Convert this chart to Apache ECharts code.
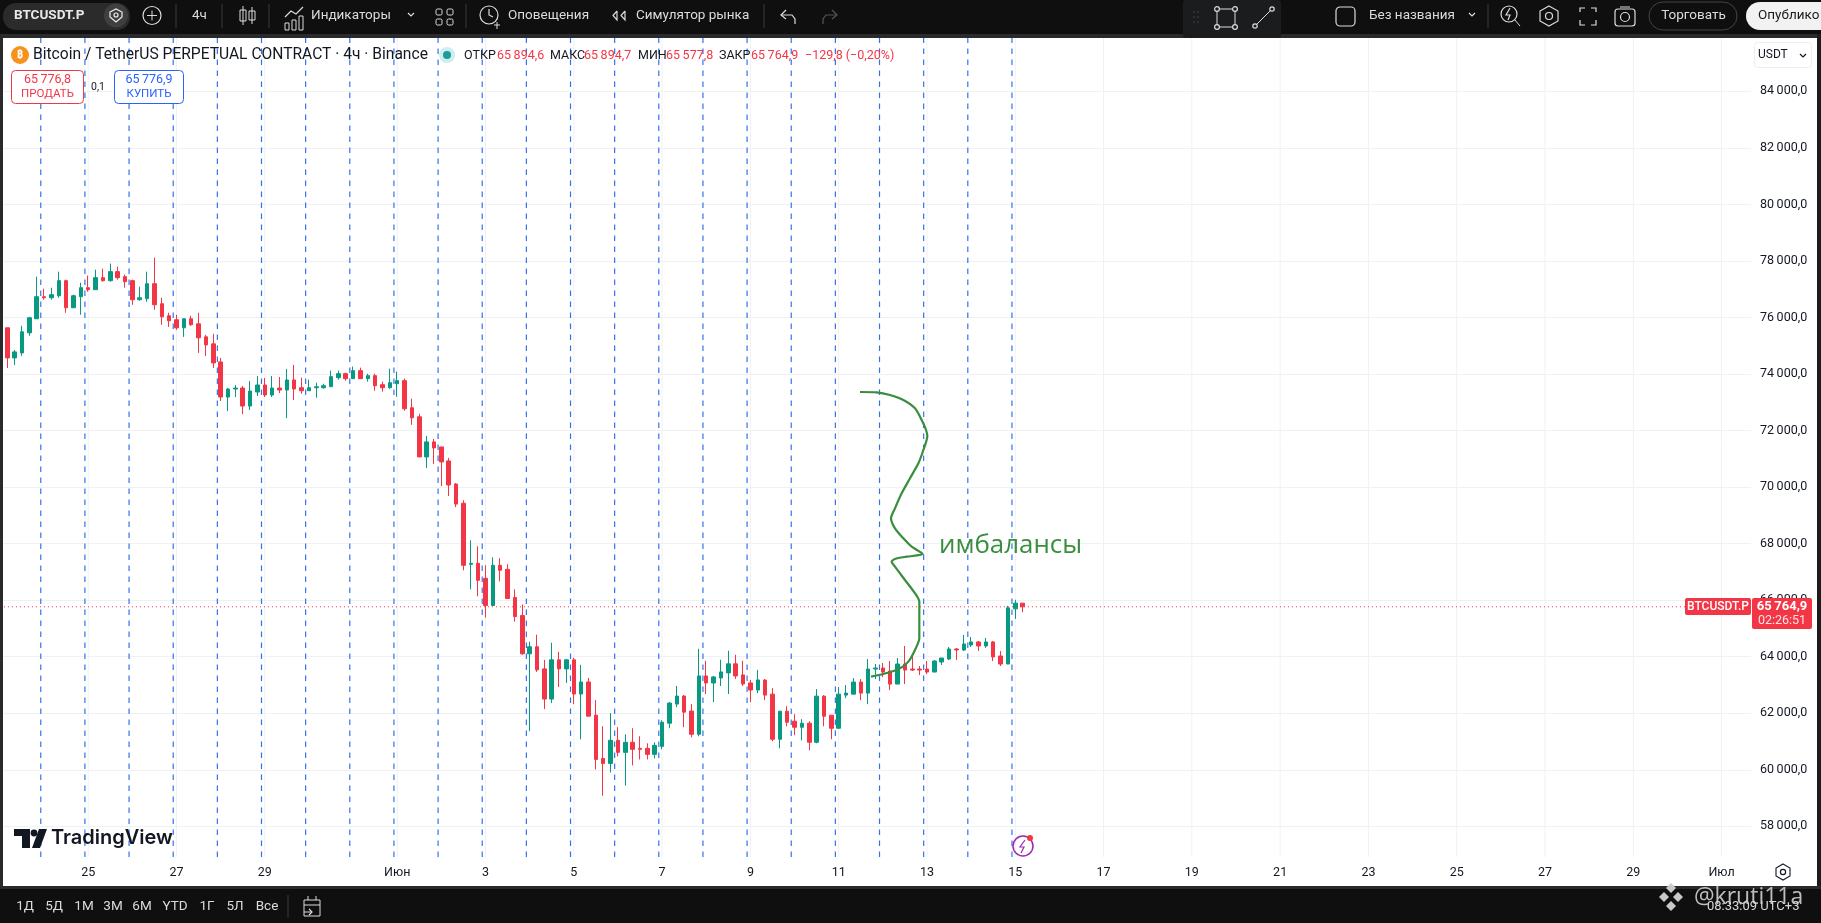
<!DOCTYPE html>
<html><head><meta charset="utf-8">
<style>html,body{margin:0;padding:0;background:#0f0f0f;overflow:hidden}#c{width:1821px;height:923px}</style>
<script src="https://cdn.jsdelivr.net/npm/echarts@6/dist/echarts.min.js"></script>
</head><body><div id="c"></div>
<script>
// [open, close, low, high], 4h candles
const candles=[
[75634,74569,74214,75634],[74569,74782,74321,74853],[74746,75492,74640,75705],[75456,75989,75350,76024],
[75953,76734,75953,77444],[76734,76698,76628,77018],[76698,76805,76628,77053],[76769,77302,76698,77621],
[77302,76344,76166,77337],[76344,76769,76344,76805],[76734,77053,76095,77231],[77053,76982,76911,77479],
[76982,77408,76982,77692],[77408,77302,77266,77728],[77302,77621,77266,77905],[77621,77408,77337,77799],
[77444,77266,77053,77515],[77302,76628,76450,77337],[76628,76698,76592,77089],[76663,77195,76557,77621],
[77195,76450,76273,78118],[76486,76024,75740,76698],[76060,75882,75669,76166],[75918,75634,75563,76095],
[75634,75953,75314,75953],[75953,75740,75705,76060],[75776,75279,74746,76166],[75314,75030,74640,75385],
[75066,74392,74214,75421],[74427,73185,73043,74569],[73185,73469,72688,73504],[73469,73504,73185,73611],
[73504,72866,72582,73575],[72866,73398,72724,73753],[73362,73611,73220,73930],[73611,73256,73185,73859],
[73256,73504,73185,73930],[73504,73433,73327,73895],[73433,73788,72440,74179],[73788,73469,73078,74321],
[73515,73409,73302,73870],[73409,73515,73409,73799],[73515,73551,73160,73693],[73515,73586,73480,73657],
[73551,73906,73551,74119],[73870,74012,73799,74119],[74012,73835,73764,74048],[73835,74119,73835,74261],
[74119,73835,73835,74225],[73835,73941,73728,74012],[73941,73586,73409,74012],[73622,73515,73373,73728],
[73515,73693,73480,74190],[73657,73764,73196,74083],[73764,72770,72699,73835],[72806,72451,72202,73125],
[72486,71067,71067,72593],[71067,71599,70676,71812],[71599,71386,70818,71705],[71421,70889,70037,71421],
[70925,70073,69682,71031],[70108,69399,69292,70144],[69428,67233,67056,69534],[67268,67304,66383,68118],
[67304,66702,66136,67906],[66771,65811,65384,67234],[65811,67234,65811,67518],[67234,67056,66664,67483],
[67091,66060,66060,67269],[66095,65419,65241,66380],[65455,64103,64067,65846],[64103,64352,61363,64530],
[64352,63533,63462,64779],[63569,62502,62146,63889],[62502,63889,62359,64494],[63889,63569,62929,64174],
[63569,63889,63071,63925],[63889,62680,62324,63960],[62680,63106,61078,63711],[63106,61897,61897,63249],
[61932,60367,60011,62466],[60402,60224,59086,61541],[60224,61043,59904,62004],[61043,60616,60474,61505],
[60616,60972,59442,61256],[60972,60723,60153,61470],[60758,60723,60367,61185],[60758,60545,60367,60936],
[60545,60865,60402,60972],[60829,61683,60723,61754],[61648,62359,61470,62395],[62324,62608,62217,62964],
[62608,62039,61505,62644],[62075,61256,61150,62324],[61256,63320,61185,64281],[63320,63071,62680,63854],
[63071,63284,62395,63320],[63249,63462,62964,63889],[63427,63747,62680,64209],[63747,63320,63213,64067],
[63355,63035,62964,63854],[63071,62822,62395,63178],[62822,63178,62715,63534],[63173,62641,62463,63209],
[62676,61079,61008,62889],[61079,62073,60760,62073],[62073,61682,61540,62250],[61718,61505,61221,61966],
[61505,61647,61044,61789],[61647,60973,60689,61718],[60973,62605,60937,62854],[62605,61895,61540,62641],
[61931,61469,61079,61931],[61469,62676,61469,62925],[62641,62712,62534,62996],[62676,63102,62676,63244],
[63102,62712,62463,63209],[62712,63563,62321,63918],[63563,63599,63209,63741],[63599,63457,63279,63776],
[63492,63031,62818,63847],[63031,63741,63031,63954],[63741,63528,63031,64380],[63563,63528,63492,64096],
[63563,63528,63350,63670],[63563,63457,63386,63847],[63457,63847,63457,63883],[63812,63954,63705,63954],
[63918,64273,63883,64344],[64273,64238,63883,64309],[64238,64451,64202,64770],[64415,64522,64344,64699],
[64522,64380,64202,64557],[64380,64522,64309,64664],[64522,63989,63847,64557],[64025,63741,63670,64202],
[63741,65728,63741,65799],[65693,65895,65338,66012],[65894.6,65764.9,65577.8,65894.7]];
const tickLabels=['25','27','29','Июн','3','5','7','9','11','13','15','17','19','21','23','25','27','29','Июл'];
const tickSlots=[12,24,36,54,66,78,90,102,114,126,138,150,162,174,186,198,210,222,234];
const slotCount=239;
const dashedSlots=[5.55,11.55,17.55,23.55,29.55,35.55,41.55,47.55,53.55,59.55,65.55,71.55,77.55,83.55,89.55,95.55,101.55,107.55,113.55,119.55,125.55,131.55,137.55];
const lastClose=65764.9;
const scribble=[[116.9,73363],[119.16,73351],[120.98,73257],[122.79,73080],[124.37,72785],[125.28,72373],[125.87,72019],[126.05,71807],[125.51,71312],[124.83,70840],[123.69,70310],[122.56,69779],[121.65,69248],[121.11,68895],[121.65,68541],[122.79,68187],[123.92,67892],[125.41,67633],[123.24,67539],[121.65,67456],[121.2,67362],[121.65,67185],[123.01,66713],[124.37,66242],[124.96,65947],[124.96,64650],[124.37,64237],[123.47,63825],[122.11,63554],[120.07,63389],[118.39,63294]];

const FF='Roboto, "Noto Sans", sans-serif';
const UP='#089981',DOWN='#f23645',GRID='#f0f1f4',PLOT_BOTTOM=56915,PLOT_TOP=86000;
const cats=[];for(let i=0;i<slotCount;i++)cats.push(String(i));
const labelBySlot={};tickSlots.forEach((s,i)=>labelBySlot[s]=tickLabels[i]);
const kdata=[['-','-','-','-']].concat(candles);
const fmt=v=>{const s=Math.round(v).toString();return s.slice(0,-3)+'\u2009'+s.slice(-3)+',0'};

const g=[];
const R=(x,y,w,h,fill,o={})=>g.push({type:'rect',z:o.z||95,silent:true,shape:{x,y,width:w,height:h,r:o.r||0},style:{fill:fill||'none',stroke:o.stroke,lineWidth:o.lw||1}});
const T=(text,x,y,fill,size,o={})=>g.push({type:'text',z:o.z||100,silent:true,style:{text,x,y,fill,font:`${o.w||400} ${size}px ${o.ff||FF}`,align:o.a||'left',verticalAlign:'middle'}});
const L=(x1,y1,x2,y2,c='#d8d8d8',lw=1)=>g.push({type:'line',z:100,silent:true,shape:{x1,y1,x2,y2},style:{stroke:c,lineWidth:lw,fill:'none'}});
const C=(cx,cy,r,stroke,fill,lw=1.2)=>g.push({type:'circle',z:100,silent:true,shape:{cx,cy,r},style:{stroke:stroke||'none',fill:fill||'none',lineWidth:lw}});
const P=(points,stroke,fill,lw=1.2,closed=false)=>g.push({type:closed?'polygon':'polyline',z:100,silent:true,shape:{points},style:{stroke:stroke||'none',fill:fill||'none',lineWidth:lw}});
const D='#0f0f0f',B='#2a2a2a',W='#dcdcdc';
// frame
R(0,0,1821,34,D,{z:90});R(0,34,1821,4,B,{z:90});R(0,34,3,856,B,{z:90});R(1817,34,4,856,'#1c1c1c',{z:90});R(0,886,1821,3,B,{z:90});R(0,889,1821,34,D,{z:90});
// top toolbar
R(3,3,127,27,'#2b2b2b',{r:13});T('BTCUSDT.P',14,16,'#e8e8e8',13.5,{w:700});
C(116,15.5,12,null,'#3f3f3f');P([[110,12],[116,9],[122,12],[122,17],[116,22],[110,17]],'#eee',null,1.2,true);C(116,15,2,'#eee');
C(152,15.5,9,W);L(147,15.5,157,15.5,W);L(152,10.5,152,20.5,W);
[176,222,269,466,764].forEach(x=>L(x,4,x,28,'#3a3a3a'));
T('4ч',192,16,W,13.5);
L(243,6,243,25,W);R(240,10,6,11,null,{stroke:W,z:100});L(252,7,252,24,W);R(249,11,6,9,null,{stroke:W,z:100});
P([[285,17],[291,11],[296,14],[303,7]],W);R(285,23,4,7,null,{stroke:W,z:100});R(292,20,4,10,null,{stroke:W,z:100});R(299,16,4,14,null,{stroke:W,z:100});
T('Индикаторы',311,16,W,13.5);P([[408,13],[411,16],[414,13]],W);
[436,447].forEach(x=>[9,19].forEach(y=>R(x,y,6,6,null,{stroke:W,r:1.5,z:100})));
C(489,15,9,W);P([[489,9],[489,15],[493,17]],W);L(494,25,500,25,W);L(497,22,497,29,W);
T('Оповещения',508,16,W,13.5);
P([[617,11],[613,15.5],[617,20],[617,11]],W);P([[625,11],[621,15.5],[625,20],[625,11]],W);
T('Симулятор рынка',636,16,W,13.5);
P([[786,10],[781,15],[786,19]],W);P([[781,15],[792,15],[795,19],[795,24]],W);
P([[832,10],[837,15],[832,19]],'#555');P([[837,15],[826,15],[823,19],[823,24]],'#555');
// drawing panel
R(1183,0,98,38,'#1b1c1e',{r:3,z:98});
[1194,1198].forEach(x=>[12,17,22].forEach(y=>C(x,y,0.7,null,'#555')));
R(1217,9,18,18,null,{stroke:W,z:100});[[1217,9],[1235,9],[1217,27],[1235,27]].forEach(p=>C(p[0],p[1],2.4,W,'#1b1c1e'));
L(1255,26,1271,10,W);C(1255,26,2.2,W,'#1b1c1e');C(1272,9,2.2,W,'#1b1c1e');
// right toolbar
R(1336,7,19,19,null,{stroke:W,r:4,z:100,lw:1.2});T('Без названия',1369,16,W,13.5);P([[1469,13],[1472,16],[1475,13]],W);L(1488,4,1488,28,'#3a3a3a');
C(1509,14,8,W);L(1515,20,1520,26,W);P([[1510,8],[1506,15],[1510,15],[1508,20]],W);
P([[1549,6],[1558,11],[1558,21],[1549,26],[1540,21],[1540,11]],W,null,1.2,true);C(1549,16,3.5,W);
P([[1580,12],[1580,8],[1585,8]],W);P([[1591,8],[1596,8],[1596,12]],W);P([[1596,20],[1596,25],[1591,25]],W);P([[1585,25],[1580,25],[1580,20]],W);
R(1615,9,20,17,null,{stroke:W,r:3,z:100,lw:1.2});C(1625,17,4.5,W);L(1620,7,1630,7,W);
R(1649,2,88,28,null,{stroke:'#444',r:14,z:100});T('Торговать',1693.5,16,W,13.5,{a:'center'});
R(1746,2,90,28,'#f2f2f2',{r:14});T('Опублико',1758,16,'#1a1a1a',13.5);
// legend row
C(20,55,9,null,'#f7931a');T('₿',20,55,'#fff',11,{a:'center',w:700});
T('Bitcoin / TetherUS PERPETUAL CONTRACT · 4ч · Binance',33,55.5,'#131722',15.6);
C(447,55,8,null,'#cdeeee');C(447,55,4,null,'#1f9a96');
const V=DOWN;
T('ОТКР',464,55.5,'#131722',12.5);T('65\u2009894,6',497,55.5,V,12.5);
T('МАКС',550,55.5,'#131722',12.5);T('65\u2009894,7',584,55.5,V,12.5);
T('МИН',638,55.5,'#131722',12.5);T('65\u2009577,8',666,55.5,V,12.5);
T('ЗАКР',719,55.5,'#131722',12.5);T('65\u2009764,9',751,55.5,V,12.5);T('−129,8 (−0,20%)',805,55.5,V,12.5);
// buy/sell
R(11.5,70.5,72,33,'#fff',{stroke:DOWN,r:4,z:96});T('65\u2009776,8',47.5,80,DOWN,12.5,{a:'center'});T('ПРОДАТЬ',47.5,94,DOWN,11.5,{a:'center'});
T('0,1',98,87,'#131722',10.5,{a:'center'});
R(114.5,70.5,69,33,'#fff',{stroke:'#2962ff',r:4,z:96});T('65\u2009776,9',149,80,'#2962ff',12.5,{a:'center'});T('КУПИТЬ',149,94,'#2962ff',11.5,{a:'center'});
// USDT
R(1754.5,42.5,57,25,'#fff',{stroke:'#eceef2',r:3,z:96});T('USDT',1758,55,'#131722',12);P([[1800,54],[1803,57],[1806,54]],'#131722');
// price tags
R(1685,598,66,17,DOWN,{r:2});T('BTCUSDT.P',1718,606.5,'#fff',12,{a:'center',w:500});
R(1752,598,60,31,DOWN,{r:2});T('65\u2009764,9',1782,606.5,'#fff',13,{a:'center',w:700});T('02:26:51',1782,621,'#fde3e5',12.5,{a:'center'});
// annotation
T('имбалансы',939,546,'#388e3c',25.9,{ff:'"Open Sans", sans-serif'});
// TradingView logo
P([[14,829],[30,829],[30,848],[22,848],[22,836],[14,836]],null,'#131722',0,true);C(34,833,3.4,null,'#131722');
P([[39,829],[47,829],[40,848],[32,848]],null,'#131722',0,true);
T('TradingView',51,838,'#131722',20,{w:600,ff:'Inter, Roboto, sans-serif'});
// flash icon
C(1023,846,10,'#9c27b0',null,1.5);P([[1025,840],[1020,847],[1024,847],[1021,853]],'#9c27b0');C(1030,838,3,null,DOWN);
// settings hex
P([[1783,864],[1790,868],[1790,876],[1783,880],[1776,876],[1776,868]],'#131722',null,1.1,true);C(1783,872,2.6,'#131722');
// bottom toolbar
[['1Д',25],['5Д',54],['1М',84],['3М',113],['6М',142],['YTD',175],['1Г',207],['5Л',235],['Все',267]].forEach(a=>T(a[0],a[1],907,W,13.5,{a:'center'}));
L(288,895,288,918,'#3a3a3a');
R(304,900,16,16,null,{stroke:W,z:100});L(308,896,308,900,W);L(316,896,316,900,W);L(304,905,320,905,W);L(304,912,312,912,W);P([[309,909],[312,912],[309,915]],W);
// watermark
[[1671,888],[1664,897],[1678,897],[1671,906]].forEach(p=>P([[p[0],p[1]-5],[p[0]+5,p[1]],[p[0],p[1]+5],[p[0]-5,p[1]]],null,'#c9c9c9',0,true));
T('@kruti11a',1694,897,'#bdbdbd',23,{ff:'"Open Sans", sans-serif'});
T('08:33:09 UTC+3',1707,907,'#d8d8d8',13);

const vLine=(x,color,type,z,w=1)=>({type:'line',xAxisIndex:1,yAxisIndex:0,silent:true,animation:false,symbol:'none',z,
  data:[[x,PLOT_BOTTOM],[x,PLOT_TOP]],lineStyle:{color,width:w,type}});
const series=[];
tickSlots.forEach(s=>series.push(vLine(s,GRID,'solid',1)));
dashedSlots.forEach(s=>series.push(vLine(s,'#3273ea',[5.4,5.6],4,1.2)));
series.push({type:'candlestick',xAxisIndex:0,yAxisIndex:0,z:3,barWidth:4,silent:true,animation:false,data:kdata,
  itemStyle:{color:UP,color0:DOWN,borderColor:UP,borderColor0:DOWN,borderWidth:1}});
series.push({type:'line',xAxisIndex:1,yAxisIndex:0,silent:true,animation:false,symbol:'none',z:5,
  data:[[0,lastClose],[238,lastClose]],lineStyle:{color:DOWN,width:1,type:[1,3]}});
series.push({type:'line',xAxisIndex:1,yAxisIndex:0,silent:true,animation:false,symbol:'none',z:6,smooth:0.25,
  data:scribble,lineStyle:{color:'#388e3c',width:2.2}});

const chart=echarts.init(document.getElementById('c'),null,{renderer:'canvas',width:1821,height:923});
chart.setOption({
  animation:false,backgroundColor:'#fff',
  grid:{left:-0.06,top:34.76,width:1751.06,height:848.1,containLabel:false,outerBoundsMode:'none'},
  xAxis:[
   {type:'category',data:cats,boundaryGap:false,axisLine:{show:false},axisTick:{show:false},splitLine:{show:false},
    axisLabel:{interval:0,margin:-10,hideOverlap:false,color:'#131722',fontFamily:FF,fontSize:12.5,verticalAlign:'middle',
      formatter:(v)=>labelBySlot[+v]||''}},
   {type:'value',min:0,max:238,show:false,splitLine:{show:false}}
  ],
  yAxis:{type:'value',position:'right',min:56000,max:86000,interval:2000,axisLine:{show:false},axisTick:{show:false},
    splitLine:{show:true,showMinLine:false,showMaxLine:false,lineStyle:{color:GRID,width:1}},
    axisLabel:{margin:9,color:'#131722',fontFamily:FF,fontSize:12.5,showMinLabel:false,showMaxLabel:false,formatter:fmt}},
  series,graphic:{elements:g}
});
</script></body></html>
